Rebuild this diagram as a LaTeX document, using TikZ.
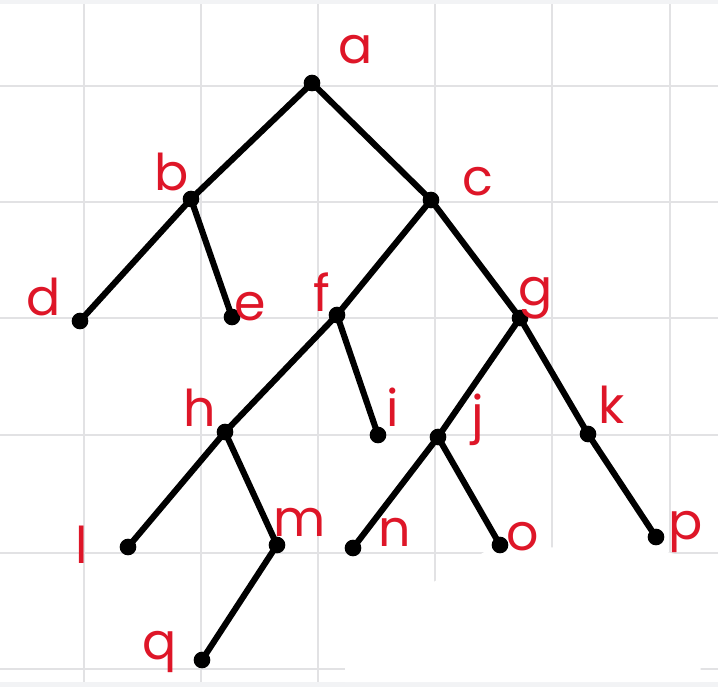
\documentclass[tikz,border=0pt]{standalone}
\usepackage{fontspec}
\newfontfamily\handfont{Poppins}

\tikzset{every picture/.style={line width=0.75pt}}
\tikzset{
  vertex/.style={circle, fill=black, inner sep=0pt, minimum size=12.5pt},
  branch/.style={line width=4.6pt, line cap=round},
  letter/.style={inner sep=0.75pt, text=redink, font=\handfont\fontsize{38}{38}\selectfont},
  gridline/.style={color={rgb, 255:red, 226; green, 226; blue, 228}, line width=1.2pt}
}
\definecolor{redink}{RGB}{222,22,40}

\begin{document}
\begin{tikzpicture}[x=0.75pt,y=0.75pt,yscale=-1,xscale=1]
    \useasboundingbox (0,0) rectangle (718,687);

    %Shape: Background
    \fill[white] (0,0) rectangle (718,687);
    \fill[color={rgb, 255:red, 242; green, 243; blue, 245}] (0,0) rectangle (718,4);
    \fill[color={rgb, 255:red, 242; green, 243; blue, 245}] (0,682) rectangle (718,687);

    %Grid
    \foreach \gx in {84,201,318,435,552,670} {
        \draw[gridline] (\gx,4) -- (\gx,682);
    }
    \foreach \gy in {86,202,318,435,553,669} {
        \draw[gridline] (0,\gy) -- (718,\gy);
    }

    %Shape: erased patch
    \fill[white] (486,551) -- (560,547) -- (640,545) -- (690,558) -- (704,600) -- (700,682) -- (345,682) -- (345,640) -- (420,590) -- cycle;

    % Vertices
    \node[vertex] (a) at (312,83) {};
    \node[vertex] (b) at (191,199) {};
    \node[vertex] (c) at (431,200) {};
    \node[vertex] (d) at (80,321) {};
    \node[vertex] (e) at (232,317) {};
    \node[vertex] (f) at (337,315) {};
    \node[vertex] (g) at (520,318) {};
    \node[vertex] (h) at (225,432) {};
    \node[vertex] (i) at (378,435) {};
    \node[vertex] (j) at (438,437) {};
    \node[vertex] (k) at (588,434) {};
    \node[vertex] (l) at (128,547) {};
    \node[vertex] (m) at (277,545) {};
    \node[vertex] (n) at (353,548) {};
    \node[vertex] (o) at (500,545) {};
    \node[vertex] (p) at (656,537) {};
    \node[vertex] (q) at (202,660) {};

    %Straight Lines
    \draw[branch] (a.center) -- (b.center);
    \draw[branch] (a.center) -- (c.center);
    \draw[branch] (b.center) -- (d.center);
    \draw[branch] (b.center) -- (e.center);
    \draw[branch] (c.center) -- (f.center);
    \draw[branch] (c.center) -- (g.center);
    \draw[branch] (f.center) -- (h.center);
    \draw[branch] (f.center) -- (i.center);
    \draw[branch] (g.center) -- (j.center);
    \draw[branch] (g.center) -- (k.center);
    \draw[branch] (h.center) -- (l.center);
    \draw[branch] (h.center) -- (m.center);
    \draw[branch] (m.center) -- (q.center);
    \draw[branch] (j.center) -- (n.center);
    \draw[branch] (j.center) -- (o.center);
    \draw[branch] (k.center) -- (p.center);

    % Text Node
    \node[letter] (la) at (356,50) {a};
    \node[letter] (lb) at (172,172) {b};
    \node[letter] (lc) at (478,182) {c};
    \node[letter] (ld) at (44,297) {d};
    \node[letter] (le) at (250,307) {e};
    \node[letter] (lf) at (322,292) {f};
    \node[letter] (lg) at (536,298) {g};
    \node[letter] (lh) at (200,408) {h};
    \node[letter] (li) at (393,407) {i};
    \node[letter] (lj) at (478,420) {j};
    \node[letter] (lk) at (612,405) {k};
    \node[letter] (ll) at (82,545) {l};
    \node[letter] (lm) at (300,522) {m};
    \node[letter] (ln) at (395,532) {n};
    \node[letter] (lo) at (523,537) {o};
    \node[letter] (lp) at (686,532) {p};
    \node[letter] (lq) at (160,652) {q};
\end{tikzpicture}
\end{document}
